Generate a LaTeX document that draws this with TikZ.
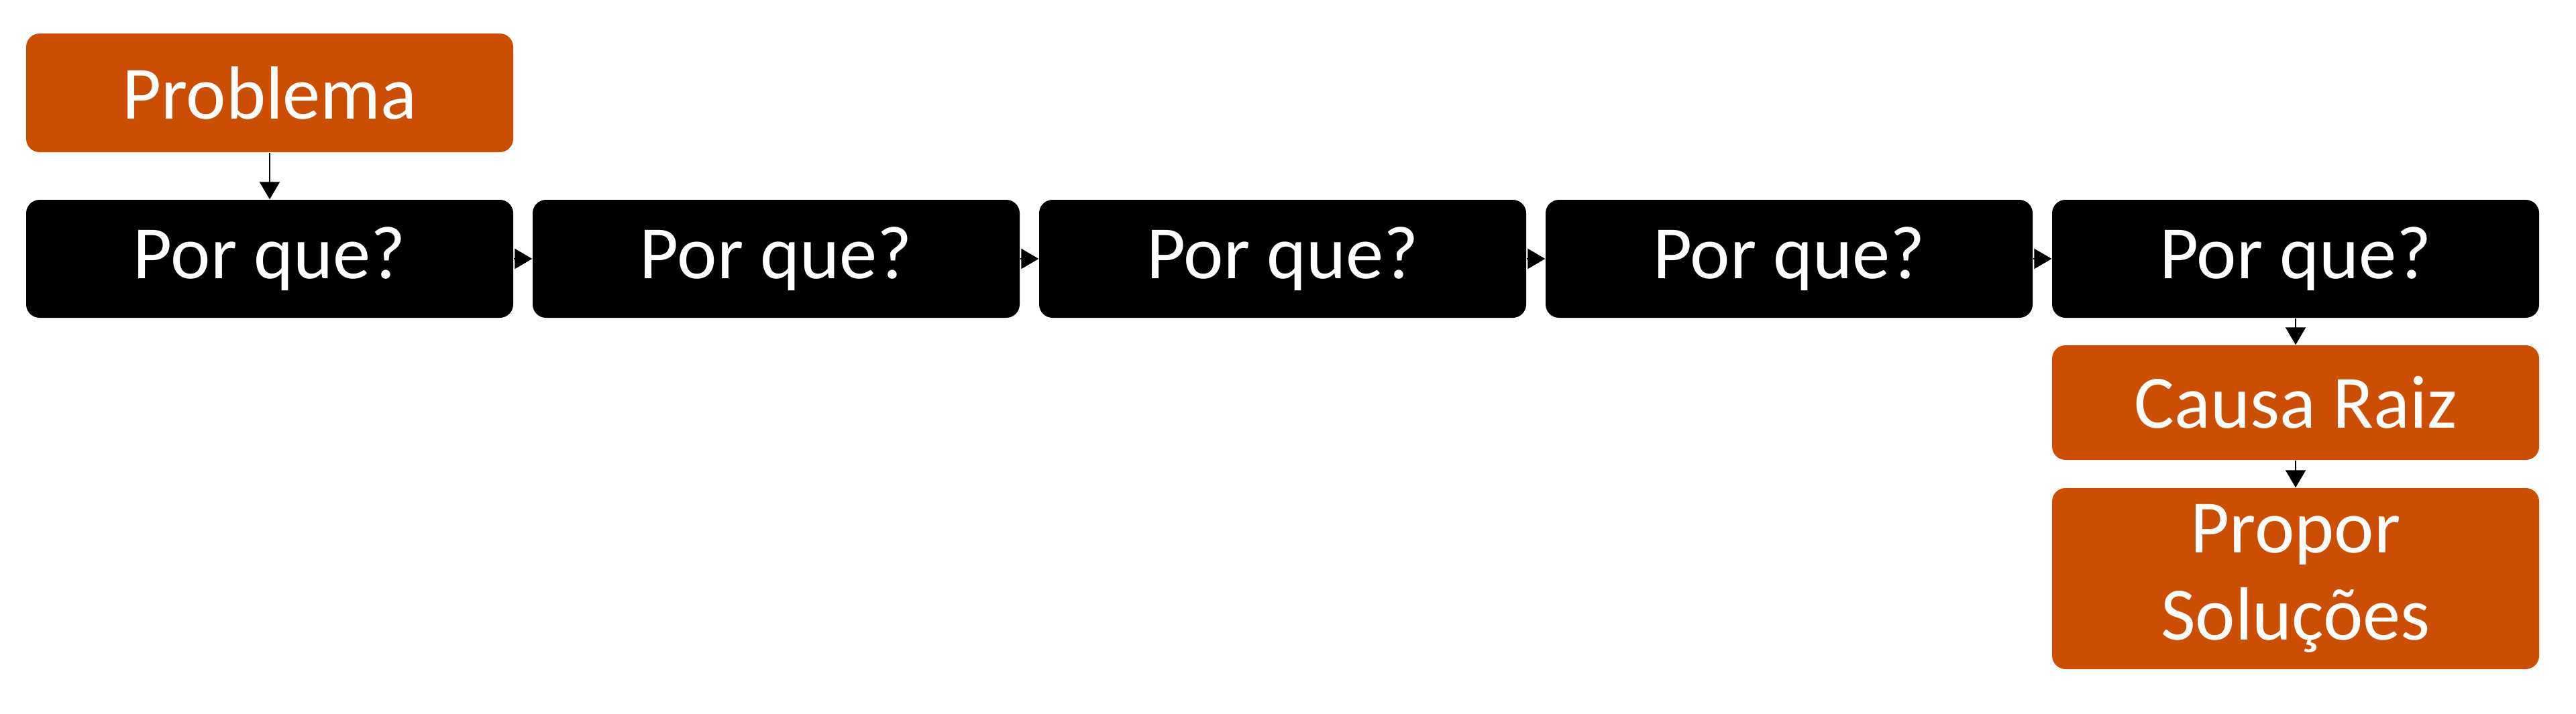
\documentclass[tikz,border=0pt]{standalone}
\usepackage{fontspec}
\setmainfont{Carlito}
\usepackage{tikz}
\usetikzlibrary{arrows.meta,positioning}
\definecolor{rootorange}{RGB}{204,78,2}
\tikzset{
  whybox/.style={ fill=black, text=white, rounded corners=2mm, minimum width=7.26cm, minimum height=1.76cm, inner sep=0pt, font=\fontsize{32}{37}\selectfont }
}
\tikzset{
  orangebox/.style={ fill=rootorange, text=white, rounded corners=2mm, minimum width=7.26cm, minimum height=1.74cm, inner sep=0pt, align=center, font=\fontsize{32}{37}\selectfont }
}
\tikzset{
  link/.style={ -{Triangle[width=3mm,length=2.6mm]}, line width=0.6pt, black }
}

\begin{document}
\begin{tikzpicture}
      \useasboundingbox (0,0) rectangle (38.4,10.64);
      \node[orangebox, minimum height=1.77cm] (prob) at (4.02, 9.255) {Problema};
      \node[whybox] (why1) at (4.02, 6.78) {Por que?};
      \node[whybox] (why2) at (11.57, 6.78) {Por que?};
      \node[whybox] (why3) at (19.12, 6.78) {Por que?};
      \node[whybox] (why4) at (26.67, 6.78) {Por que?};
      \node[whybox] (why5) at (34.22, 6.78) {Por que?};
      \node[orangebox, minimum height=1.71cm] (root) at (34.22, 4.635) {Causa Raiz};
      \node[orangebox, minimum height=2.70cm] (sol) at (34.22, 2.01) {Propor\\Soluções};

      \draw[link] (prob) -- (why1);
      \draw[link] (why1) -- (why2);
      \draw[link] (why2) -- (why3);
      \draw[link] (why3) -- (why4);
      \draw[link] (why4) -- (why5);
      \draw[link] (why5) -- (root);
      \draw[link] (root) -- (sol);
    \end{tikzpicture}
\end{document}
